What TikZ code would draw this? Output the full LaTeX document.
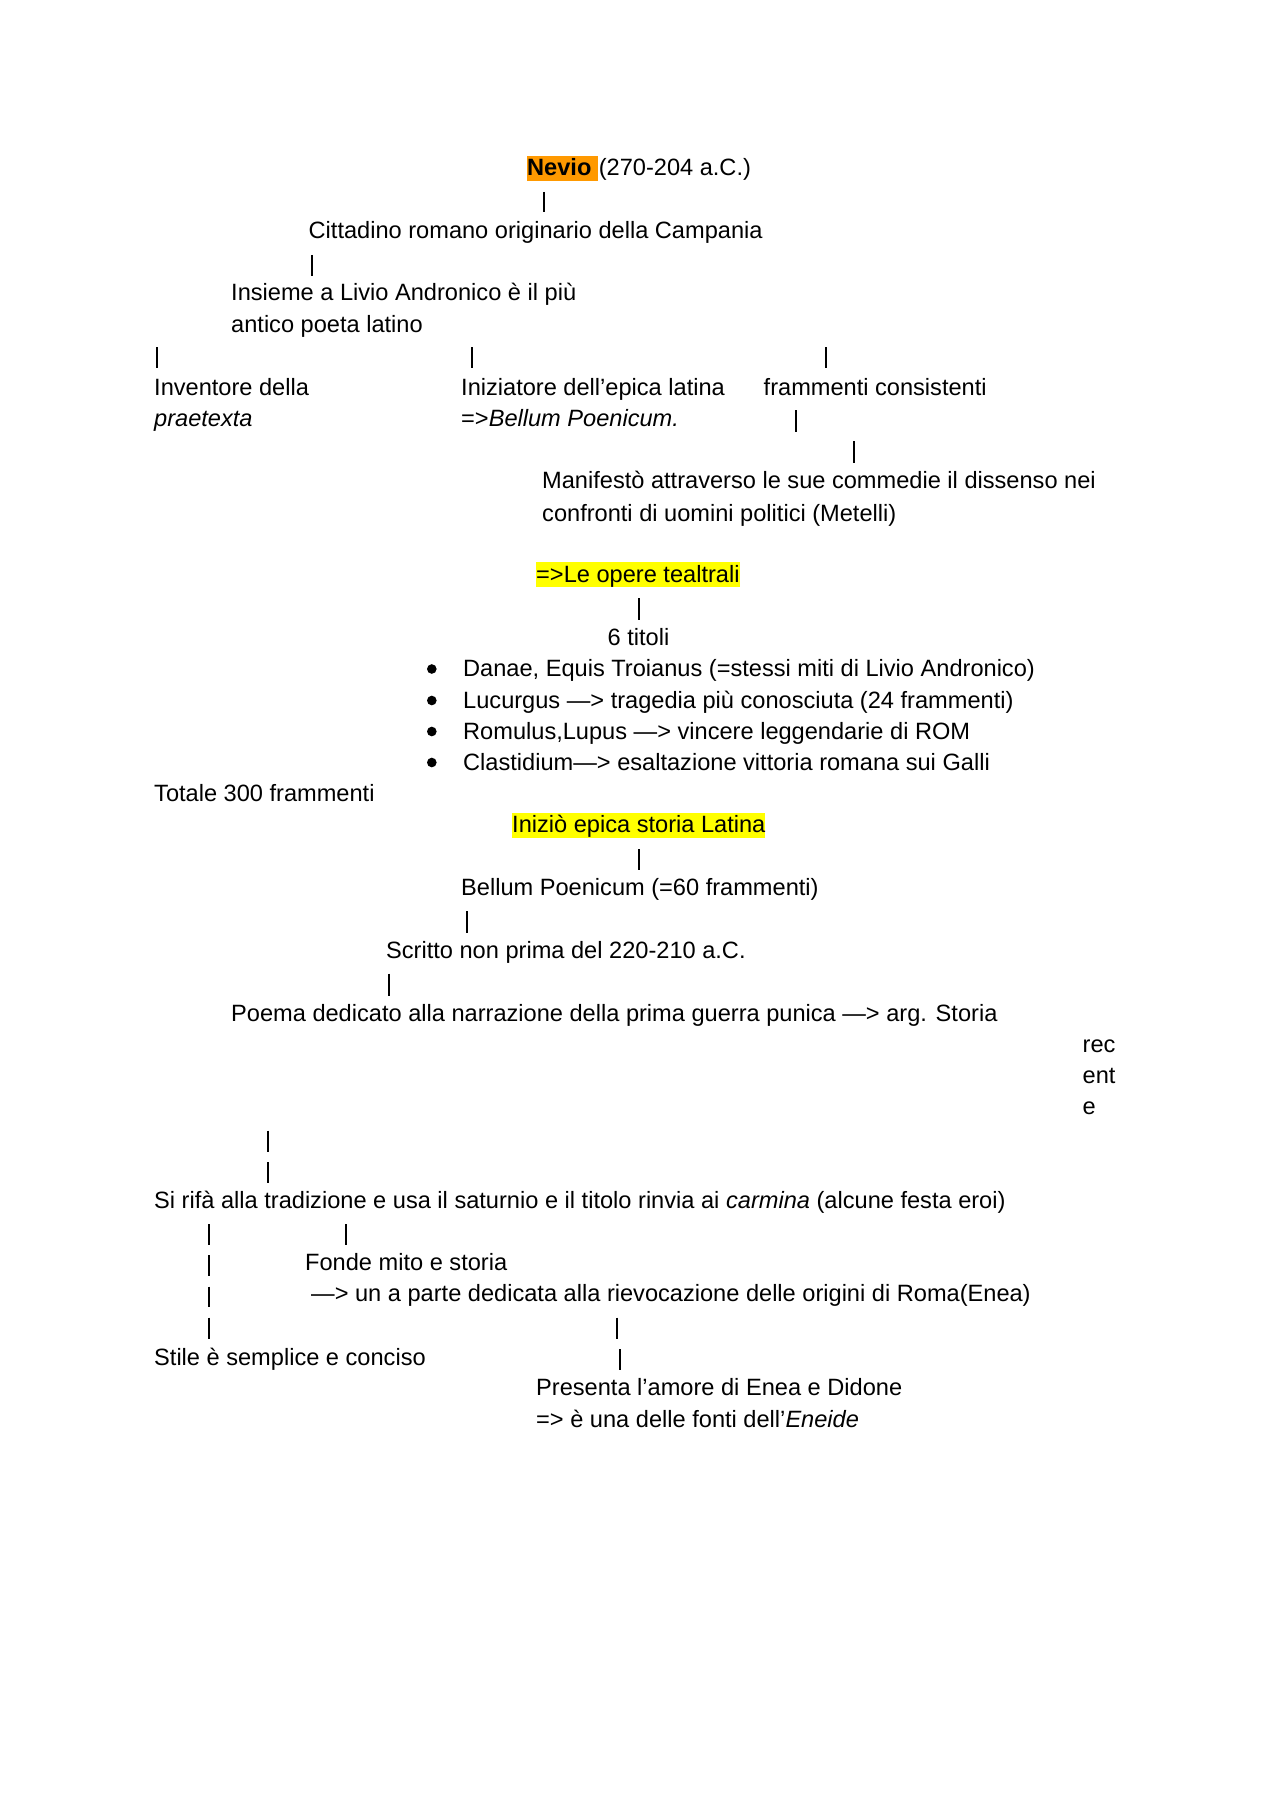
\documentclass[tikz,border=0pt]{standalone}
\usepackage{fontspec}
\setmainfont{Liberation Sans}
\definecolor{hlorange}{HTML}{FF9900}
\definecolor{hlyellow}{HTML}{FFFF00}
\newcommand\mybar[4]{\coordinate (#1t) at (#2,#3); \coordinate (#1b) at (#2,#4); \draw[bar] (#1t) -- (#1b);}
\begin{document}
\begin{tikzpicture}[x=0.5pt,y=-0.5pt,
  every node/.style={font=\fontsize{11.8}{14}\selectfont, inner sep=0pt, anchor=base west},
  hl/.style={fill=#1, text height=0.98em, text depth=0.27em},
  bar/.style={line width=0.95pt},
  bullet/.style={circle, fill=black, minimum size=4.8pt, anchor=center}]
\useasboundingbox[fill=white] (0,0) rectangle (1280,1808);
\begin{scope}[shift={(-1.2,1.0)}]
% header
\node[hl=hlorange] (nev) at (528,175) {\mbox{\bfseries Nevio\ }};
\node (dates) at (nev.base east) {(270-204 a.C.)};
\mybar{b1}{545}{191}{211}
\node (citt) at (309.5,238) {Cittadino romano originario della Campania};
\mybar{b2}{313}{254}{275}
\node (ins1) at (232,300) {Insieme a Livio Andronico è il più};
\node (ins2) at (232,331.5) {antico poeta latino};

\mybar{b3}{158}{346.5}{367.5}
\mybar{b4}{473.5}{346.5}{367.5}
\mybar{b5}{827}{346.5}{367.5}

\node (inv1) at (155,394) {Inventore della};
\node (inv2) at (155,425) {\itshape praetexta};
\node (iniz1) at (462,394) {Iniziatore dell’epica latina};
\node (iniz2) at (462,425) {=>\textit{Bellum Poenicum.}};
\node (framm) at (764.5,394) {frammenti consistenti};
\mybar{b6}{797}{409}{431}
\mybar{b7}{855}{440}{462}
\node (man1) at (543,487.5) {Manifestò attraverso le sue commedie il dissenso nei};
\node (man2) at (543,520) {confronti di uomini politici (Metelli)};

% opere teatrali
\node[hl=hlyellow] (opere) at (537,581) {=>Le opere tealtrali};
\mybar{b8}{640}{597}{619}
\node (titoli) at (608.5,644.5) {6 titoli};
\node[bullet] (d1) at (433,668) {};
\node (l1) at (464,675.5) {Danae, Equis Troianus (=stessi miti di Livio Andronico)};
\node[bullet] (d2) at (433,699.5) {};
\node (l2) at (464,707) {Lucurgus —> tragedia più conosciuta (24 frammenti)};
\node[bullet] (d3) at (433,730.5) {};
\node (l3) at (464,738) {Romulus,Lupus —> vincere leggendarie di ROM};
\node[bullet] (d4) at (433,761.5) {};
\node (l4) at (464,769) {Clastidium—> esaltazione vittoria romana sui Galli};
\node (tot) at (155,800.5) {Totale 300 frammenti};

% epica
\node[hl=hlyellow] (epica) at (513,831.5) {Iniziò epica storia Latina};
\mybar{b9}{640}{848}{869}
\node (bell) at (462,894) {Bellum Poenicum (=60 frammenti)};
\mybar{b10}{468}{910}{932}
\node (scr) at (387,957.5) {Scritto non prima del 220-210 a.C.};
\mybar{b11}{390}{972.5}{994.5}
\node (poema) at (232,1020) {Poema dedicato alla narrazione della prima guerra punica —> arg. Storia};
\node (rec1) at (1083.5,1051) {rec};
\node (rec2) at (1083.5,1082) {ent};
\node (rec3) at (1083.5,1113.5) {e};
\mybar{b12}{269}{1129.5}{1150.5}
\mybar{b13}{269}{1161}{1181.5}
\node (sirifa) at (155,1207) {Si rifà alla tradizione e usa il saturnio e il titolo rinvia ai \textit{carmina} (alcune festa eroi)};
\mybar{b14}{210}{1223}{1244}
\mybar{b15}{210}{1254}{1275}
\mybar{b16}{210}{1285.5}{1306}
\mybar{b17}{210}{1316.5}{1337.5}
\mybar{b18}{347.5}{1223}{1244}
\node (fonde1) at (306,1269.5) {Fonde mito e storia};
\node (fonde2) at (312,1300.5) {—> un a parte dedicata alla rievocazione delle origini di Roma(Enea)};
\mybar{b19}{618}{1316.5}{1337.5}
\mybar{b20}{621.5}{1348}{1369}
\node (stile) at (155,1364) {Stile è semplice e conciso};
\node (pres1) at (537,1394) {Presenta l’amore di Enea e Didone};
\node (pres2) at (537,1426.5) {=> è una delle fonti dell’\textit{Eneide}};
\end{scope}
\end{tikzpicture}
\end{document}
